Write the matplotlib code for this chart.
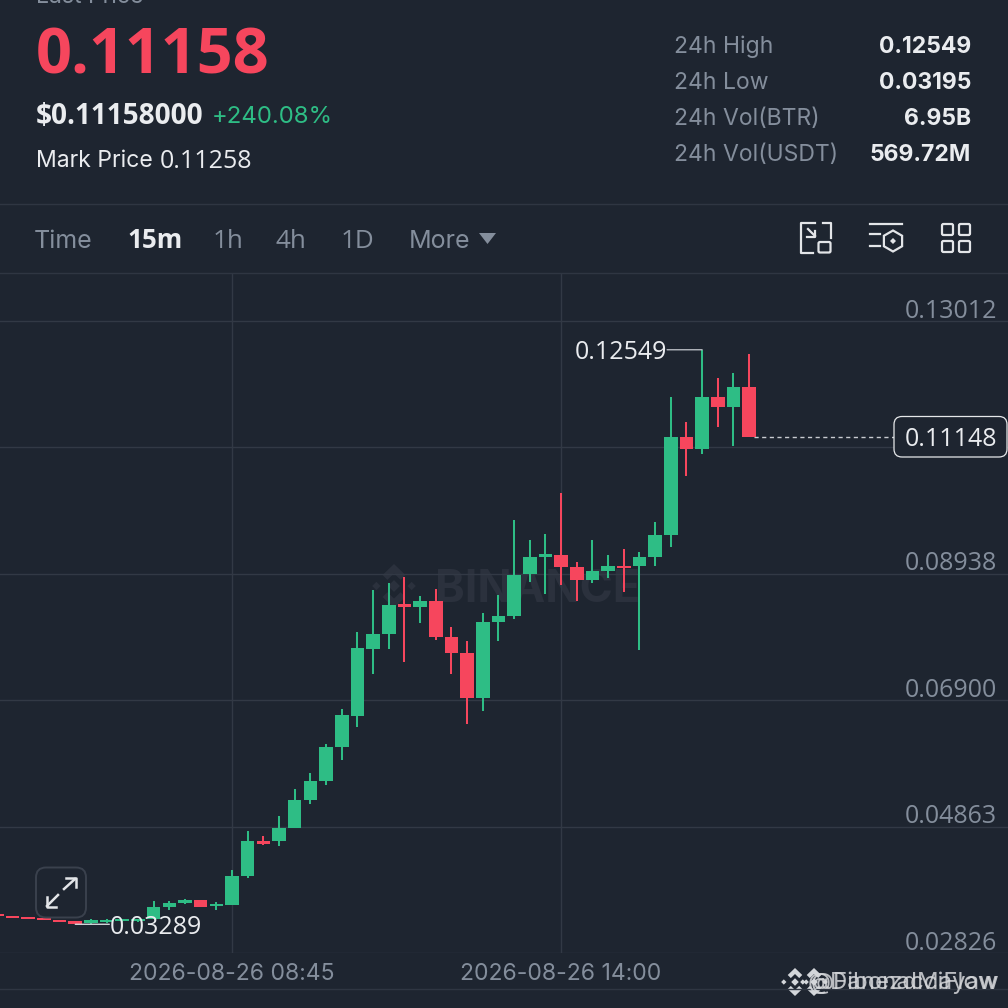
import matplotlib
matplotlib.use("Agg")
import matplotlib.pyplot as plt
from matplotlib.patches import FancyBboxPatch, Polygon, RegularPolygon
from matplotlib.transforms import ScaledTranslation

# ---- data (prices); candle index 0 = 08:45, one candle = 15 min
first_index = -15
opens = [.03447,.03427,.03411,.03390,.03358,.03337,.03310,.03326,.03337,.03342,.03369,.03572,.03637,.03675,.03584,
         .03604,.04072,.04631,.04626,.04846,.05292,.05598,.06141,.06651,.07730,.07967,.08451,.08407,.08499,.07924,
         .07661,.06931,.08166,.08262,.08930,.09208,.09241,.09052,.08833,.08983,.09063,.09063,.09204,.09558,.11147,
         .10954,.11792,.11631,.11944]
closes = [.03423,.03395,.03369,.03353,.03321,.03298,.03353,.03363,.03369,.03369,.03568,.03637,.03680,.03572,.03616,
          .04072,.04631,.04583,.04846,.05297,.05598,.06146,.06657,.07737,.07967,.08435,.08403,.08499,.07924,.07661,
          .06931,.08161,.08262,.08923,.09213,.09252,.09052,.08833,.08983,.09063,.09026,.09204,.09558,.11147,.10954,
          .11787,.11626,.11944,.11148]
highs = [.03447,.03427,.03411,.03390,.03358,.03337,.03366,.03375,.03378,.03380,.03669,.03659,.03696,.03675,.03643,
         .04164,.04797,.04712,.05034,.05474,.05722,.06195,.06759,.07999,.08677,.08794,.08881,.08580,.08693,.08080,
         .07859,.08301,.08596,.09805,.09477,.09574,.10240,.09123,.09482,.09241,.09337,.09294,.09777,.11787,.11389,
         .12549,.12093,.12174,.12480]
lows = [.03423,.03395,.03369,.03353,.03321,.03289,.03293,.03315,.03325,.03330,.03369,.03519,.03616,.03572,.03519,
        .03604,.04030,.04567,.04555,.04846,.05228,.05529,.05932,.06464,.07323,.07730,.07521,.08149,.07876,.07323,
        .06522,.06731,.07855,.08204,.08801,.08607,.08757,.08499,.08785,.08875,.08640,.07710,.09068,.09374,.10519,
        .10869,.11309,.11002,.11138]
price_ticks = [.13012,.10975,.08938,.06900,.04863,.02826]
price_labels = ["0.13012","0.10975","0.08938","0.06900","0.04863","0.02826"]
time_ticks = [0, 21]
time_labels = ["2026-08-26 08:45", "2026-08-26 14:00"]
last_close = 0.11148
stats_names = ["24h High","24h Low","24h Vol(BTR)","24h Vol(USDT)"]
stats_values = ["0.12549","0.03195","6.95B","569.72M"]
intervals = [("Time",34,False),("15m",127,True),("1h",213,False),("4h",276,False),("1D",341,False),("More",409,False)]

BG = "#1e2530"; GRID = "#323945"; GREY = "#848e9c"; WHITE = "#eaecef"
GREEN = "#2ebd85"; RED = "#f6465d"; LINE = "#2f3642"
FONT = "Inter"; NUM = "Open Sans"
plt.rcParams["font.family"] = [FONT, "DejaVu Sans"]
px = lambda v: v * 0.72  # font size in points from px at dpi 100

fig = plt.figure(figsize=(10.08, 10.08), dpi=100, facecolor=BG)
W = 1008.0

# background layer (watermark)
bg = fig.add_axes([0, 0, 1, 1], zorder=0); bg.set_xlim(0, W); bg.set_ylim(W, 0); bg.axis("off")
WM = "#2b313d"
def logo(a, cx, cy, s, color):
    """Binance-like mark centred at (cx, cy), s = half size."""
    for dx, d in [(0, .27 * s), (-.8 * s, .19 * s), (.8 * s, .19 * s)]:
        a.add_patch(Polygon([(cx+dx-d, cy), (cx+dx, cy-d), (cx+dx+d, cy), (cx+dx, cy+d)], color=color, lw=0))
    for sg in (-1, 1):
        a.add_patch(Polygon([(cx-.52*s, cy+sg*.5*s), (cx, cy+sg*s), (cx+.52*s, cy+sg*.5*s),
                             (cx+.3*s, cy+sg*.28*s), (cx, cy+sg*.57*s), (cx-.3*s, cy+sg*.28*s)], color=color, lw=0))
logo(bg, 394, 586, 22, WM)
bg.text(435, 590, "BINANCE", fontsize=px(45), fontweight="bold", color=WM, ha="left", va="center")

# chart
top_px, bot_px = 273.0, 953.0
ax = fig.add_axes([0, 1 - bot_px / W, 1, (bot_px - top_px) / W], zorder=1)
ax.patch.set_alpha(0)
ax.set_xlim(-14.805, 49.52)
ax.set_ylim(0.02826, 0.13786)
for s in ax.spines.values():
    s.set_visible(False)
ax.set_axisbelow(True)
ax.grid(True, color=GRID, lw=1.0)
ax.set_xticks(time_ticks, time_labels)
ax.set_yticks(price_ticks, price_labels)
ax.tick_params(axis="x", length=0, pad=px(10), labelsize=px(23), labelcolor=GREY)
ax.yaxis.tick_right()
ax.tick_params(axis="y", length=0, pad=-px(11), labelsize=px(25), labelcolor=GREY)
off = ScaledTranslation(0, 13 / 100, fig.dpi_scale_trans)
for t in ax.yaxis.get_major_ticks():
    t.label2.set_ha("right")
    t.label2.set_family([NUM, "DejaVu Sans"])
    t.label2.set_transform(t.label2.get_transform() + off)

for k, (o, c, h, l) in enumerate(zip(opens, closes, highs, lows)):
    i = first_index + k
    col = GREEN if c >= o else RED
    ax.vlines(i, l, h, color=col, lw=1.45, zorder=3)
    ax.bar(i, abs(c - o), bottom=min(o, c), width=0.87, color=col, lw=0, zorder=3)

last_i = first_index + len(closes) - 1
ax.hlines(last_close, last_i + .3, 42.4, color="#c9ccd1", lw=1.0, ls=(0, (3, 2.5)), zorder=2)
# extreme markers: a level leader from the candle, then the value
hi = max(highs); hi_i = first_index + highs.index(hi)
lo = min(lows); lo_i = first_index + lows.index(lo)
for val, idx, dx, ha, lc in [(hi, hi_i, -35, "right", "#b5b9bf"), (lo, lo_i, 34, "left", "#d5d8dc")]:
    ax.annotate("", xy=(idx, val), xytext=(dx, 0), textcoords="offset pixels",
                arrowprops=dict(arrowstyle="-", color=lc, lw=1.0, shrinkA=0, shrinkB=0))
    ax.annotate(f"{val:.5f}", xy=(idx, val), xytext=(dx, 0), textcoords="offset pixels", ha=ha, va="center_baseline",
                fontsize=px(25), family=NUM, color=WHITE)

# UI layer
ui = fig.add_axes([0, 0, 1, 1], zorder=2); ui.set_xlim(0, W); ui.set_ylim(W, 0); ui.axis("off"); ui.patch.set_alpha(0)
def T(x, y, s, size, color, weight="normal", ha="left", family=FONT):
    return ui.text(x, y + 2, s, fontsize=px(size), color=color, fontweight=weight, ha=ha, va="center", family=[family, "DejaVu Sans"])

T(36, -5, "Last Price", 23, GREY)
T(36, 55, "0.11158", 63, RED, "bold", family=NUM)
T(36, 115, "$0.11158000", 28, WHITE, "bold", family=NUM)
T(212, 115, "+240.08%", 24, GREEN)
T(36, 159, "Mark Price", 23, WHITE)
T(160, 159, "0.11258", 25, WHITE, family=NUM)
for y, n, v in zip([45, 81, 117, 153], stats_names, stats_values):
    T(674, y, n, 23, GREY)
    T(971, y, v, 23, WHITE, "bold", "right")

for y in (204, 273, 989):
    ui.plot([0, W], [y, y], color=LINE, lw=1.0)

for s, x, b in intervals:
    is_num = s[0].isdigit()
    T(x, 239, s, 26 if is_num else 25, WHITE if b else GREY, "bold" if b else "normal", family=NUM if is_num else FONT)
ui.add_patch(Polygon([(479, 233), (496, 233), (487.5, 244)], color=GREY, lw=0))

# toolbar icons
IC = "#e3e5e8"; ilw = 1.6
ui.plot([823, 831, 831], [223, 223, 238], color=IC, lw=ilw)
ui.plot([815, 801, 801, 813], [223, 223, 253, 253], color=IC, lw=ilw)
ui.plot([808, 815], [229, 236], color=IC, lw=ilw)
ui.plot([807, 815, 815], [237, 237, 231], color=IC, lw=ilw)
ui.add_patch(FancyBboxPatch((818.5, 242), 12, 10.5, boxstyle="round,pad=0,rounding_size=1.5", fc="none", ec=IC, lw=ilw))
ui.plot([870, 902], [224, 224], color=IC, lw=ilw)
ui.plot([870, 880], [234, 234], color=IC, lw=ilw)
ui.plot([870, 880], [246, 246], color=IC, lw=ilw)
ui.add_patch(RegularPolygon((893, 241), 6, radius=10.5, fc="none", ec=IC, lw=ilw))
ui.add_patch(RegularPolygon((893, 241), 4, radius=3, color=IC, lw=0))
for x0 in (942, 959):
    for y0 in (224, 241):
        ui.add_patch(FancyBboxPatch((x0, y0), 11, 11, boxstyle="round,pad=0,rounding_size=1.5", fc="none", ec=IC, lw=ilw))

# last-price pill
ui.add_patch(FancyBboxPatch((894, 416.5), 113, 40.5, boxstyle="round,pad=0,rounding_size=8", fc=BG, ec="#e6e8ea", lw=0.9))
T(951, 437, f"{last_close:.5f}", 25, WHITE, ha="center", family=NUM)

# fullscreen button
ui.add_patch(FancyBboxPatch((36, 867.5), 50, 50, boxstyle="round,pad=0,rounding_size=10", fc="none", ec="#3a414d", lw=1.4))
ui.plot([64, 75], [889, 879], color=IC, lw=1.8)
ui.plot([66, 75.5, 75.5], [878, 878, 887], color=IC, lw=1.8)
ui.plot([47, 58], [906, 895], color=IC, lw=1.8)
ui.plot([46.5, 46.5, 56], [897, 906.5, 906.5], color=IC, lw=1.8)

# bottom-right overlapped watermarks
logo(ui, 795, 982, 14, "#d3d6da")
logo(ui, 814, 982, 14, "#d3d6da")
ui.text(998, 983, "@FibonacciFlow", fontsize=px(24), color="#d6d8db", ha="right", va="center", alpha=.85)
ui.text(999, 983, "@DanezdMayaw", fontsize=px(24), color="#d6d8db", ha="right", va="center", alpha=.85)

fig.savefig("out.png", dpi=100, facecolor=BG)
